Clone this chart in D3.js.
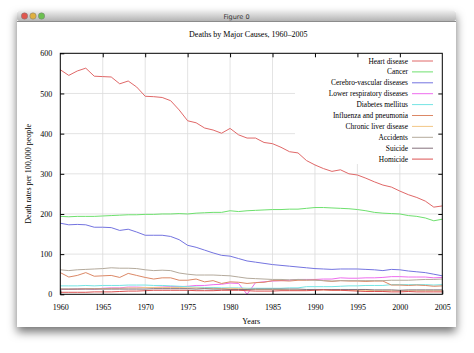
<!DOCTYPE html>
<html>
<head>
<meta charset="utf-8">
<script src="https://cdn.jsdelivr.net/npm/d3@7"></script>
<style>
  body { margin: 0; background: #ffffff; }
  svg { display: block; }
</style>
</head>
<body>
<div id="chart"></div>
<script>

// Years on the x axis
const years = d3.range(1960, 2006)

// Death rates per 100,000 people, one value per year 1960..2005
const heartDisease = [559,545,556,563,543,542,541,524,531,516, 493,492,490,482,459,432,427,414,409,401,
                      413,397,389,389,378,375,366,355,352,333, 322,313,306,310,300,297,289,280,272,267,
                      257,248,241,232,217,220]
const cancer       = [194,193,194,194,194,195,196,197,198,198, 199,199,200,200,201,200,202,203,204,204,
                      208,206,208,209,210,211,211,212,212,214, 216,216,215,214,213,211,208,204,202,201,
                      200,196,194,190,183,187]
const cerebro      = [177,173,174,173,167,167,166,159,162,155, 147,147,147,144,136,122,117,110,103,97,
                      95,89,83,80,77,74,72,70,68,66, 64,63,62,63,63,63,62,61,59,62,
                      61,58,56,54,50,46]
const lowerResp    = [12,12,13,14,13,15,16,16,18,18, 17,17,18,19,19,20,22,22,24,25,
                      28,27,0,29,31,33,34,35,37,37, 37,38,38,41,40,40,41,41,42,44,
                      44,43,43,43,41,42]
const diabetes     = [21,21,21,22,21,22,22,22,23,23, 23,22,22,21,20,19,18,17,17,16,
                      16,16,15,15,15,15,15,16,16,19, 19,19,19,20,21,21,22,22,22,24,
                      24,24,24,24,23,24]
const influenza    = [54,43,47,54,45,46,47,42,52,47, 42,38,41,41,35,35,38,31,34,27,
                      31,30,27,29,30,34,34,33,35,35, 36,34,32,34,33,33,32,33,33,23,
                      23,22,23,22,20,21]
const liver        = [13,13,13,14,14,14,15,15,16,16, 17,17,17,17,17,16,16,15,15,14,
                      15,14,13,12,12,12,12,11,11,11, 11,11,10,10,10,10,10,9,9,9,
                      9,9,9,9,9,9]
const accidents    = [61,59,61,62,63,64,66,65,65,64, 61,59,60,59,53,50,48,48,48,47,
                      46,43,40,39,38,37,37,36,37,36, 35,34,33,34,34,34,34,34,34,35,
                      35,35,36,37,37,38]
const suicide      = [13,13,13,13,13,13,13,13,13,13, 13,14,14,14,14,14,13,14,13,13,
                      12,12,12,13,13,13,13,13,13,12, 12,12,12,12,12,12,12,11,11,11,
                      10,11,11,11,11,11]
const homicide     = [5,5,5,5,6,6,6,7,8,8, 9,10,10,10,10,10,9,9,9,10,
                      10,10,9,8,8,8,9,9,9,9, 10,11,10,10,9,8,7,7,7,6,
                      6,7,6,6,6,6]

const causes = ["Heart disease", "Cancer", "Cerebro-vascular diseases", "Lower respiratory diseases",
                "Diabetes mellitus", "Influenza and pneumonia", "Chronic liver disease",
                "Accidents", "Suicide", "Homicide"]
const seriesValues = [heartDisease, cancer, cerebro, lowerResp, diabetes, influenza, liver,
                      accidents, suicide, homicide]
const colors = ["#e06868", "#6ee06e", "#7474e0", "#ee6cee", "#74e4e4", "#dc8866",
                "#f2c686", "#b4aa9c", "#84707c", "#dc5252"]

const xTicks = [1960,1965,1970,1975,1980,1985,1990,1995,2000,2005]
const yTicks = [0,100,200,300,400,500,600]

function drawChart(container) {

    // Define chart parameters
    const WIDTH = 474
    const HEIGHT = 353
    const WIN = {LEFT:17, RIGHT:456, TOP:11, BOTTOM:327, BAR:10}
    const PLOT = {LEFT:60.3, RIGHT:442.3, TOP:53.3, BOTTOM:294.3}
    const SERIF = "'Liberation Serif', 'Times New Roman', serif"

    let svg = d3.select(container).append("svg")
        .attr("width", WIDTH)
        .attr("height", HEIGHT)

    // Window shadow and title bar gradient
    let defs = svg.append("defs")
    let shadow = defs.append("filter").attr("id", "shadow")
        .attr("x", "-10%").attr("y", "-10%").attr("width", "120%").attr("height", "125%")
    shadow.append("feDropShadow")
        .attr("dx", 0).attr("dy", 5).attr("stdDeviation", 5)
        .attr("flood-color", "#000").attr("flood-opacity", 0.55)
    let grad = defs.append("linearGradient").attr("id", "bar")
        .attr("x1", 0).attr("y1", 0).attr("x2", 0).attr("y2", 1)
    grad.append("stop").attr("offset", "0%").attr("stop-color", "#ececec")
    grad.append("stop").attr("offset", "100%").attr("stop-color", "#b4b4b4")

    // The window
    svg.append("rect")
        .attr("x", WIN.LEFT).attr("y", WIN.TOP)
        .attr("width", WIN.RIGHT - WIN.LEFT).attr("height", WIN.BOTTOM - WIN.TOP)
        .style("fill", "#ffffff")
        .style("filter", "url(#shadow)")
    svg.append("rect")
        .attr("x", WIN.LEFT).attr("y", WIN.TOP)
        .attr("width", WIN.RIGHT - WIN.LEFT).attr("height", WIN.BAR)
        .attr("rx", 2)
        .style("fill", "url(#bar)")
    svg.append("line")
        .attr("x1", WIN.LEFT).attr("x2", WIN.RIGHT)
        .attr("y1", WIN.TOP + WIN.BAR + 0.5).attr("y2", WIN.TOP + WIN.BAR + 0.5)
        .style("stroke", "#8c8c8c")
    const buttons = ["#e0564e", "#e0b040", "#6cc050"]
    buttons.forEach(function(c, i) {
        svg.append("circle")
            .attr("cx", 24.5 + i * 8.5).attr("cy", WIN.TOP + 5)
            .attr("r", 3.2)
            .style("fill", c).style("stroke", "#7a7a7a").style("stroke-width", 0.5)
    })
    svg.append("text")
        .attr("x", (WIN.LEFT + WIN.RIGHT) / 2).attr("y", WIN.TOP + 7.5)
        .attr("text-anchor", "middle")
        .style("font-family", "'DejaVu Sans', sans-serif").style("font-size", "6.5px")
        .style("fill", "#333")
        .text("Figure 0")

    // Scales
    let xScale = d3.scaleLinear()
        .domain([1960, 2005])
        .range([PLOT.LEFT, PLOT.RIGHT])
    let yScale = d3.scaleLinear()
        .domain([0, 600])
        .range([PLOT.BOTTOM, PLOT.TOP])

    // Legend box area (grid is hidden behind it)
    const KEY = {LEFT:295, RIGHT:PLOT.RIGHT, TOP:PLOT.TOP, BOTTOM:164}

    // Grid lines
    let grid = svg.append("g").style("stroke", "#dcdcdc").style("stroke-width", 0.8)
    grid.selectAll(".gx").data(xTicks.slice(1, -1)).enter().append("line")
        .attr("x1", d => xScale(d)).attr("x2", d => xScale(d))
        .attr("y1", d => xScale(d) > KEY.LEFT ? KEY.BOTTOM : PLOT.TOP)
        .attr("y2", PLOT.BOTTOM)
    grid.selectAll(".gy").data(yTicks.slice(1, -1)).enter().append("line")
        .attr("x1", PLOT.LEFT)
        .attr("x2", d => yScale(d) < KEY.BOTTOM ? KEY.LEFT : PLOT.RIGHT)
        .attr("y1", d => yScale(d)).attr("y2", d => yScale(d))

    // Data lines
    let line = d3.line()
        .x((d, i) => xScale(years[i]))
        .y(d => yScale(d))
    svg.selectAll(".series")
        .data(seriesValues)
        .enter()
        .append("path")
        .attr("d", d => line(d))
        .style("fill", "none")
        .style("stroke", (d, i) => colors[i])
        .style("stroke-width", 1)

    // Axes: bottom and left with labels, top and right mirrored, ticks pointing inwards
    let axisStyle = function(g) {
        g.select(".domain").remove()
        g.selectAll("line").style("stroke", "#000")
        g.selectAll("text")
            .style("font-family", SERIF).style("font-size", "8px").style("fill", "#000")
    }
    svg.append("g")
        .attr("transform", "translate(0," + PLOT.BOTTOM + ")")
        .call(d3.axisBottom(xScale).tickValues(xTicks).tickFormat(d3.format("d"))
            .tickSizeInner(-4).tickSizeOuter(0).tickPadding(10))
        .call(axisStyle)
    svg.append("g")
        .attr("transform", "translate(0," + PLOT.TOP + ")")
        .call(d3.axisTop(xScale).tickValues(xTicks.slice(1, -1)).tickFormat("")
            .tickSizeInner(-4).tickSizeOuter(0))
        .call(axisStyle)
    svg.append("g")
        .attr("transform", "translate(" + PLOT.LEFT + ",0)")
        .call(d3.axisLeft(yScale).tickValues(yTicks)
            .tickSizeInner(-4).tickSizeOuter(0).tickPadding(8))
        .call(axisStyle)
    svg.append("g")
        .attr("transform", "translate(" + PLOT.RIGHT + ",0)")
        .call(d3.axisRight(yScale).tickValues(yTicks.slice(1, -1)).tickFormat("")
            .tickSizeInner(-4).tickSizeOuter(0))
        .call(axisStyle)

    // Plot frame
    svg.append("rect")
        .attr("x", PLOT.LEFT).attr("y", PLOT.TOP)
        .attr("width", PLOT.RIGHT - PLOT.LEFT).attr("height", PLOT.BOTTOM - PLOT.TOP)
        .style("fill", "none").style("stroke", "#000").style("stroke-width", 1)

    // Legend
    let key = svg.append("g")
    causes.forEach(function(name, i) {
        let y = 61 + i * 10.9
        key.append("text")
            .attr("x", 408).attr("y", y + 2.5)
            .attr("text-anchor", "end")
            .style("font-family", SERIF).style("font-size", "7.4px")
            .text(name)
        key.append("line")
            .attr("x1", 412).attr("x2", 433)
            .attr("y1", y).attr("y2", y)
            .style("stroke", colors[i]).style("stroke-width", 1)
    })

    // Titles
    svg.append("text")
        .attr("x", (PLOT.LEFT + PLOT.RIGHT) / 2 - 3).attr("y", 37)
        .attr("text-anchor", "middle")
        .style("font-family", SERIF).style("font-size", "8px")
        .text("Deaths by Major Causes, 1960\u20132005")
    svg.append("text")
        .attr("x", (PLOT.LEFT + PLOT.RIGHT) / 2).attr("y", 324)
        .attr("text-anchor", "middle")
        .style("font-family", SERIF).style("font-size", "8px")
        .text("Years")
    svg.append("text")
        .attr("transform", "translate(31," + (PLOT.TOP + PLOT.BOTTOM) / 2 + ") rotate(-90)")
        .attr("text-anchor", "middle")
        .style("font-family", SERIF).style("font-size", "8px")
        .text("Death rates per 100,000 people")
}

drawChart("#chart")
</script>
</body>
</html>
